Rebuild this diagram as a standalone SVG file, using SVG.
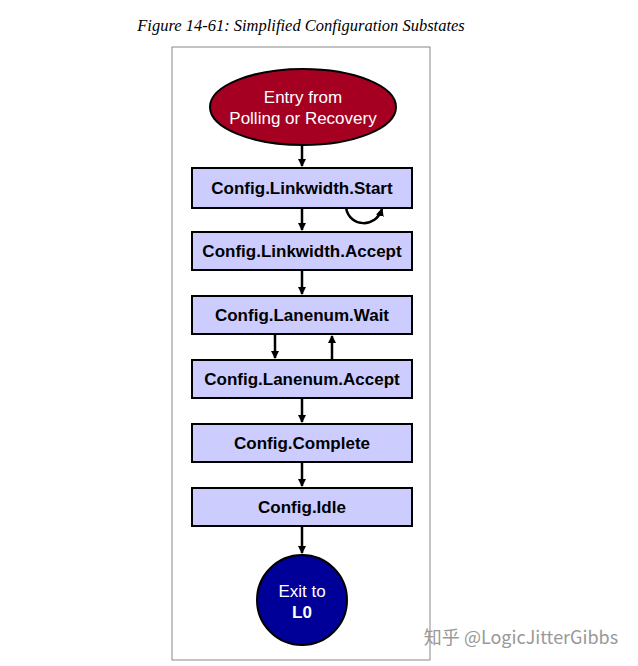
<svg xmlns="http://www.w3.org/2000/svg" width="638" height="666" viewBox="0 0 638 666">
<style>
.b{fill:#ccccff;stroke:#000;stroke-width:2}
.t{font-family:"Liberation Sans",Arial,sans-serif;font-size:17px;font-weight:bold;text-anchor:middle;fill:#000}
.c{stroke:#000;stroke-width:2.5;fill:none}
</style>
<defs><marker id="a" markerWidth="8" markerHeight="8" refX="7" refY="4" orient="auto" markerUnits="userSpaceOnUse"><path d="M0,0L8,4L0,8z" fill="#000"/></marker></defs>
<rect width="638" height="666" fill="#fff"/>
<text x="301" y="31" font-family="Liberation Serif,serif" font-style="italic" font-size="16.5" text-anchor="middle">Figure 14-61: Simplified Configuration Substates</text>
<rect x="172" y="47" width="258" height="613" fill="none" stroke="#888" stroke-width="1"/>
<g id="entry"><ellipse cx="303" cy="107" rx="93" ry="38" fill="#a50021" stroke="#000" stroke-width="2"/>
<text x="303" y="103" class="t" style="font-weight:normal;fill:#fff">Entry from</text><text x="303" y="124" class="t" style="font-weight:normal;fill:#fff">Polling or Recovery</text></g>
<g id="n1"><rect class="b" x="192" y="168" width="220" height="40"/><text class="t" x="302" y="194">Config.Linkwidth.Start</text></g>
<g id="n2"><rect class="b" x="192" y="232" width="220" height="38"/><text class="t" x="302" y="257">Config.Linkwidth.Accept</text></g>
<g id="n3"><rect class="b" x="192" y="296" width="220" height="38"/><text class="t" x="302" y="321">Config.Lanenum.Wait</text></g>
<g id="n4"><rect class="b" x="192" y="360" width="220" height="38"/><text class="t" x="302" y="385">Config.Lanenum.Accept</text></g>
<g id="n5"><rect class="b" x="192" y="424" width="220" height="38"/><text class="t" x="302" y="449">Config.Complete</text></g>
<g id="n6"><rect class="b" x="192" y="488" width="220" height="38"/><text class="t" x="302" y="513">Config.Idle</text></g>
<g id="exit"><circle cx="302" cy="600" r="45" fill="#000099" stroke="#000" stroke-width="2"/>
<text x="302" y="597" class="t" style="font-weight:normal;fill:#fff">Exit to</text><text x="302" y="618" class="t" style="fill:#fff">L0</text></g>
<g id="connectors">
<line class="c" x1="302" y1="145" x2="302" y2="166" marker-end="url(#a)"/>
<line class="c" x1="302" y1="208" x2="302" y2="230" marker-end="url(#a)"/>
<line class="c" x1="302" y1="270" x2="302" y2="294" marker-end="url(#a)"/>
<line class="c" x1="275" y1="334" x2="275" y2="358" marker-end="url(#a)"/>
<line class="c" x1="332" y1="359" x2="332" y2="336" marker-end="url(#a)"/>
<line class="c" x1="302" y1="398" x2="302" y2="422" marker-end="url(#a)"/>
<line class="c" x1="302" y1="462" x2="302" y2="486" marker-end="url(#a)"/>
<line class="c" x1="302" y1="526" x2="302" y2="553" marker-end="url(#a)"/>
<path class="c" d="M346,208 C350,228 376,228 382,209" marker-end="url(#a)"/>
</g>
<text x="521" y="644" font-family="'Noto Sans CJK SC',sans-serif" font-size="18" fill="#999" text-anchor="middle">知乎 @LogicJitterGibbs</text>
</svg>
